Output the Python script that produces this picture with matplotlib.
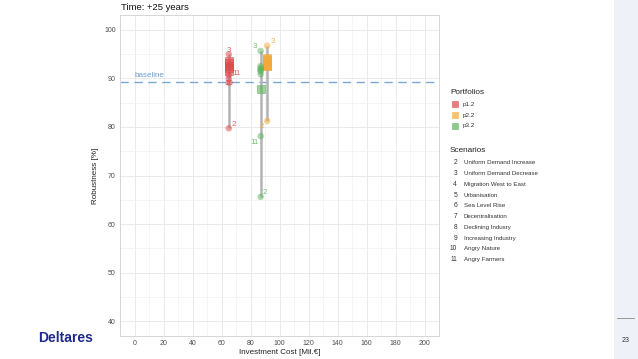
import matplotlib
matplotlib.use("Agg")
import matplotlib.pyplot as plt
from matplotlib.patches import Rectangle
from matplotlib.ticker import MultipleLocator

plt.rcParams["font.family"] = ["Liberation Sans", "DejaVu Sans"]

# ---- data -------------------------------------------------------------
portfolios = ["p1.2", "p2.2", "p3.2"]
port_colors = ["#e0474c", "#f2a93b", "#5cb55c"]
port_cost = [65.0, 91.5, 87.0]

scenario_ids = [2, 3, 4, 5, 6, 7, 8, 9, 10, 11]
scenario_names = ["Uniform Demand Increase", "Uniform Demand Decrease",
                  "Migration West to East", "Urbanisation", "Sea Level Rise",
                  "Decentralisation", "Declining Indusry", "Increasing Industry",
                  "Angry Nature", "Angry Farmers"]

# robustness [%] per scenario (2..11)
rob_p12 = [79.7, 94.9, 93.6, 93.1, 92.6, 92.2, 90.6, 89.9, 89.1, 91.5]
rob_p22 = [81.2, 96.7, 94.1, 93.5, 93.0, 92.5, 93.8, 92.8, 94.0, 92.6]
rob_p32 = [65.6, 95.6, 92.5, 91.9, 91.4, 90.8, 91.6, 92.1, 87.8, 78.1]
robustness = [rob_p12, rob_p22, rob_p32]

# marker shape per scenario
shape_p12 = ["o", "o", "s", "s", "s", "s", "o", "o", "o", "s"]
shape_p22 = ["o", "o", "s", "s", "s", "s", "s", "s", "s", "s"]
shape_p32 = ["o", "o", "o", "o", "o", "o", "o", "o", "s", "o"]
shapes = [shape_p12, shape_p22, shape_p32]

baseline = 89.2

# which scenario numbers get a text label, with offsets (points)
labelled = {
    0: {3: (0, 3), 11: (6, -1.5), 10: (0, -1), 2: (3.6, 2.4)},
    1: {3: (3.8, 3), 2: (-3.6, -4.3)},
    2: {3: (-4.3, 3), 11: (-4.3, -4.3), 2: (3.3, 3)},
}

# ---- figure -----------------------------------------------------------
fig = plt.figure(figsize=(6.38, 3.59), dpi=100)
fig.patches.append(Rectangle((614 / 638, 0), 24 / 638, 1, transform=fig.transFigure,
                             facecolor="#eef1f8", edgecolor="none", zorder=0))

ax = fig.add_axes([120 / 638, 23 / 359, 319 / 638, 321 / 359])
ax.set_xlim(-10, 210)
ax.set_ylim(37, 103)
ax.xaxis.set_major_locator(MultipleLocator(20))
ax.xaxis.set_minor_locator(MultipleLocator(10))
ax.yaxis.set_major_locator(MultipleLocator(10))
ax.yaxis.set_minor_locator(MultipleLocator(5))
ax.set_yticks(range(40, 101, 10))
ax.grid(which="major", color="#e6e6e6", lw=0.6)
ax.grid(which="minor", color="#f2f2f2", lw=0.5)
ax.set_axisbelow(True)
ax.tick_params(which="both", length=0, labelsize=5, labelcolor="#4d4d4d", pad=3)
for sp in ax.spines.values():
    sp.set_color("#d6d6d6")
    sp.set_linewidth(0.7)

ax.axhline(baseline, color="#7ba7d4", lw=1.0, ls=(0, (6, 4)), zorder=1)
ax.text(0, baseline + 0.6, "baseline", color="#6f9fd0", fontsize=5.8,
        ha="left", va="bottom")

for i, (x, vals, shp, col) in enumerate(zip(port_cost, robustness, shapes, port_colors)):
    ax.vlines(x, min(vals), max(vals), color="#b3b3b3", lw=1.8, zorder=2)
    for sid, v, m in zip(scenario_ids, vals, shp):
        if m == "s":
            ax.scatter(x, v, s=26, marker="s", color=col, alpha=0.6,
                       edgecolor=col, linewidth=0.6, zorder=3)
        else:
            ax.scatter(x, v, s=22, marker="o", color=col, alpha=0.5,
                       edgecolor="none", zorder=3)
    for sid, off in labelled[i].items():
        v = vals[scenario_ids.index(sid)]
        ax.annotate(str(sid), (x, v), xytext=off, textcoords="offset points",
                    ha="center", va="center", fontsize=5.8, color=col, alpha=0.85,
                    zorder=4)

ax.set_xlabel("Investment Cost [Mil.€]", fontsize=5.8, labelpad=1.5, color="#222222")
ax.set_ylabel("Robustness [%]", fontsize=5.8, labelpad=4, color="#222222")

fig.text(121 / 638, 1 - 8 / 359, "Time: +25 years", fontsize=6.8, ha="left",
         va="center", color="#111111")

# ---- legends ----------------------------------------------------------
fig.text(450 / 638, 1 - 92 / 359, "Portfolios", fontsize=5.9, ha="left",
         va="center", color="#222222")
for k, (name, col) in enumerate(zip(portfolios, port_colors)):
    yc = 104 + k * 11
    fig.patches.append(Rectangle((452 / 638, 1 - (yc + 3) / 359), 6 / 638, 6 / 359,
                                 transform=fig.transFigure, facecolor=col,
                                 alpha=0.7, edgecolor=col, linewidth=0.5))
    fig.text(463 / 638, 1 - yc / 359, name, fontsize=4.5, ha="left",
             va="center", color="#333333")

fig.text(450 / 638, 1 - 151 / 359, "Scenarios", fontsize=5.9, ha="left",
         va="center", color="#222222")
for k, (sid, name) in enumerate(zip(scenario_ids, scenario_names)):
    yc = 162.7 + k * 10.78
    fig.text(457 / 638, 1 - yc / 359, str(sid), fontsize=4.8, ha="right",
             va="center", color="#333333")
    fig.text(464 / 638, 1 - yc / 359, name, fontsize=4.4, ha="left",
             va="center", color="#333333")

# ---- slide decorations ------------------------------------------------
fig.text(38 / 638, 1 - 338 / 359, "Deltares", fontsize=10, fontweight="bold",
         ha="left", va="center", color="#1c2a8a")
fig.add_artist(plt.Line2D([617 / 638, 634 / 638], [1 - 318 / 359, 1 - 318 / 359],
                          transform=fig.transFigure, color="#8a8a8a", lw=0.6))
fig.text(626 / 638, 1 - 340 / 359, "23", fontsize=5, ha="center", va="center",
         color="#333333")

fig.savefig("out.png", dpi=100)
